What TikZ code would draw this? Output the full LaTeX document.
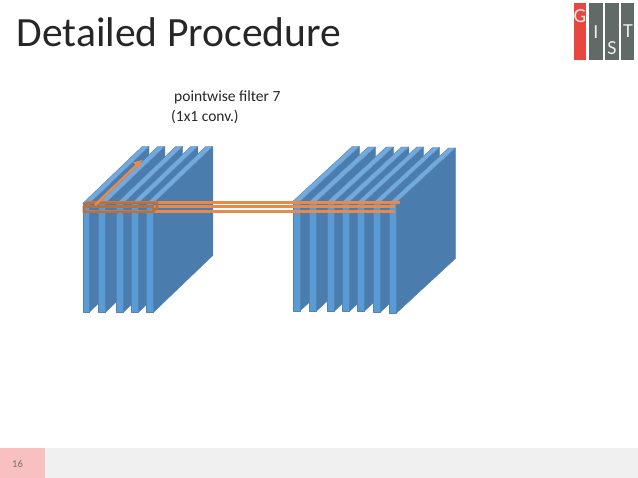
\documentclass[tikz,border=0pt]{standalone}
\usepackage{fontspec}
\setmainfont{Carlito}
\usetikzlibrary{arrows.meta}
\definecolor{slabfront}{HTML}{5B9BD5}
\definecolor{slabside}{HTML}{4A7DAD}
\definecolor{slabtop}{HTML}{74A9DD}
\definecolor{slabline}{HTML}{4F84B5}
\definecolor{orangeline}{HTML}{E98A4C}
\definecolor{orangebox}{HTML}{B8703F}
\definecolor{logored}{HTML}{E8473F}
\definecolor{logogrey}{HTML}{626A68}
\definecolor{footgrey}{HTML}{F0F0F0}
\definecolor{footpink}{HTML}{F8C0C0}
\definecolor{titleink}{HTML}{262626}
\tikzset{
  x=1pt,y=-1pt,
  slabface/.style={draw=slabline,line width=0.4pt,line join=round},
  obar/.style={draw=orangeline,line width=2.6pt},
  obox/.style={draw=orangebox,line width=2.6pt,line join=miter},
  logobar/.style={fill=logogrey,draw=none},
  logotext/.style={text=white!92!black,font=\fontsize{20}{20}\selectfont,inner sep=0pt},
  bodytext/.style={text=titleink,font=\fontsize{15.5}{18}\selectfont,inner sep=0pt,anchor=west},
}
% #1 left x, #2 right x, #3 top y, #4 bottom y, #5 dx, #6 dy
\newcommand{\slabdraw}[6]{%
  \fill[slabside,slabface] (#2,#3) -- ++(#5,-#6) -- (#2+#5,#4-#6) -- (#2,#4) -- cycle;
  \fill[slabtop,slabface] (#1,#3) -- (#2,#3) -- ++(#5,-#6) -- (#1+#5,#3-#6) -- cycle;
  \fill[slabfront,slabface] (#1,#3) rectangle (#2,#4);
}
\begin{document}
\begin{tikzpicture}
\useasboundingbox (0,0) rectangle (638,478);
\fill[white] (0,0) rectangle (638,478);
% footer
\fill[footgrey] (45,448) rectangle (638,478);
\fill[footpink] (0,448) rectangle (45,478);
\node[text=black!55,font=\fontsize{10.5}{12}\selectfont,inner sep=0pt] (pagenum) at (17.5,464) {16};
% title
\node[text=titleink,font=\fontsize{41.6}{44}\selectfont,inner sep=0pt,anchor=base west] (title) at (16.5,46.5) {Detailed Procedure};
% logo
\fill[logored] (574,3) rectangle (586,60);
\fill[logobar] (589,3) rectangle (603,60);
\fill[logobar] (605,3) rectangle (619,60);
\fill[logobar] (621,3) rectangle (634,60);
\node[logotext] (logoG) at (580,16) {G};
\node[logotext] (logoI) at (596,32) {I};
\node[logotext] (logoS) at (612,48) {S};
\node[logotext] (logoT) at (628,31) {T};
% labels
\node[bodytext] (lab1) at (174,97) {pointwise filter 7};
\node[bodytext] (lab2) at (171,117) {(1x1 conv.)};
% left stack
\slabdraw{82.7}{89.5}{203.5}{312}{59.5}{57}
\slabdraw{98.3}{105.3}{203.5}{312.5}{59.5}{57}
\slabdraw{116.3}{123.2}{203.5}{312.5}{59.5}{57}
\slabdraw{131.3}{138.3}{203.5}{312.5}{59.5}{57}
\slabdraw{146.3}{153.3}{203.5}{312.5}{59.5}{57}
% right stack
\slabdraw{292.7}{300}{201.5}{311}{59.5}{55}
\slabdraw{308.7}{316}{202}{311.5}{59.5}{55}
\slabdraw{326.7}{334}{202}{311.5}{59.5}{55}
\slabdraw{342}{349.3}{202}{311.5}{59.5}{55}
\slabdraw{357.3}{364}{202}{311.5}{59.5}{55}
\slabdraw{373.3}{380}{202.5}{312.5}{59.5}{55}
\slabdraw{389}{396}{203}{313.5}{59.5}{55}
% orange prism lines
\coordinate (a1) at (86,202.7); \coordinate (b1) at (399.5,202.7);
\coordinate (a2) at (83,206.7); \coordinate (b2) at (395,206.7);
\coordinate (a3) at (83,211.7); \coordinate (b3) at (395,211.7);
\draw[obar] (a1) -- (b1);
\draw[obar] (a2) -- (b2);
\draw[obar] (a3) -- (b3);
% orange selection on left stack
\draw[obox] (84,206.7) -- (87,202.7) -- (157,202.7) -- (157,208) -- (153,211.7) -- (84,211.7) -- cycle;
\draw[obox] (84,206.7) -- (153,206.7) -- (153,211.7);
% arrow into depth
\coordinate (arrowfrom) at (95,205);
\coordinate (arrowto) at (142,160);
\draw[draw=orangeline,line width=2.6pt,-{Triangle[length=8pt,width=8pt]}] (arrowfrom) -- (arrowto);
\end{tikzpicture}
\end{document}
